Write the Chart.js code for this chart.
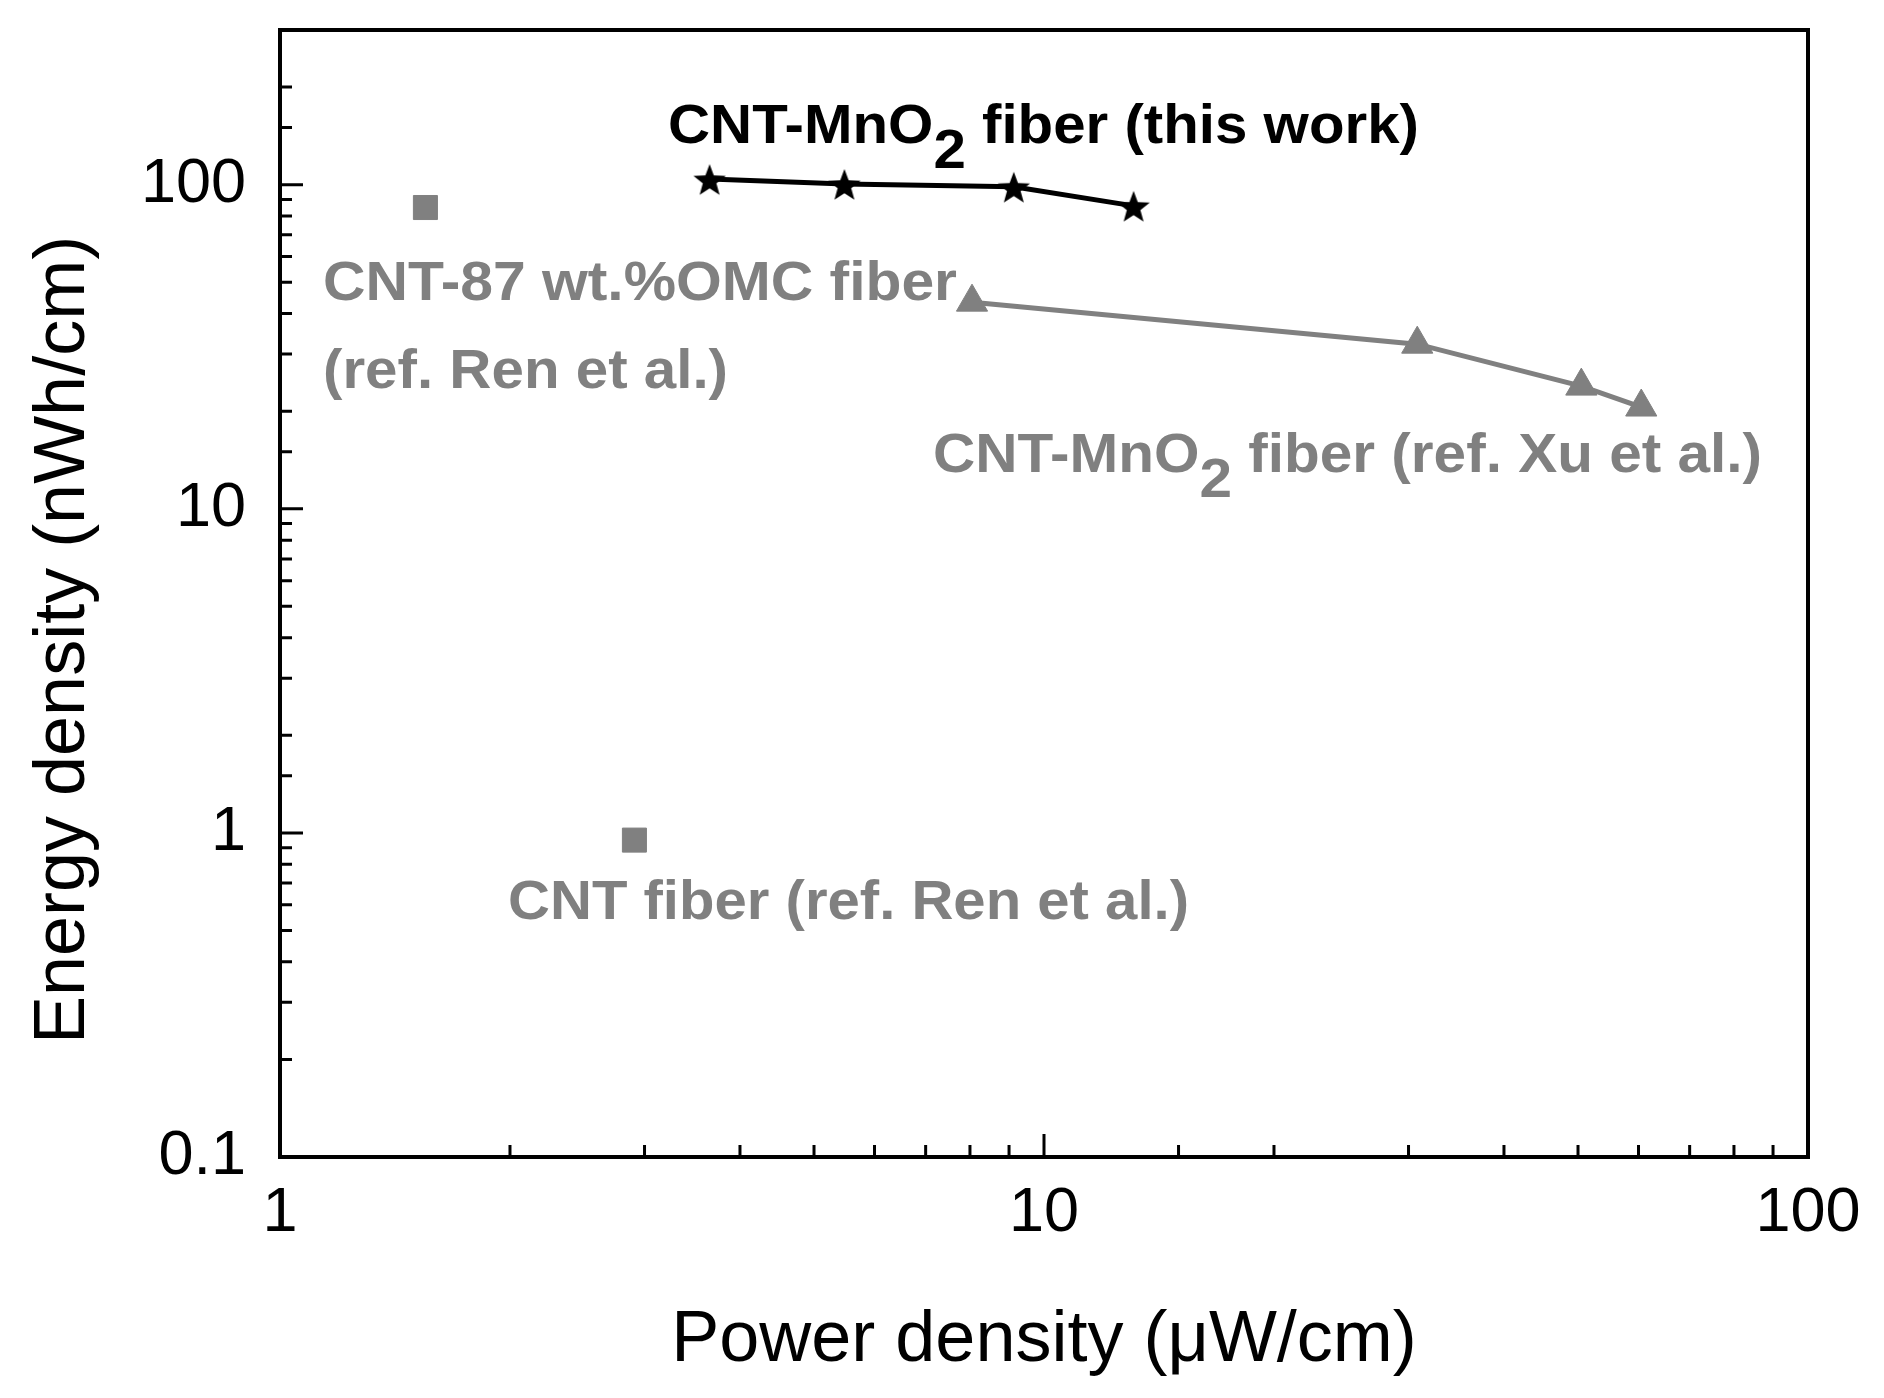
<!DOCTYPE html>
<html>
<head>
<meta charset="utf-8">
<script src="https://cdn.jsdelivr.net/npm/chart.js@4.4.1/dist/chart.umd.min.js"></script>
<style>
  html, body { margin: 0; padding: 0; background: #fff; }
  #wrap { width: 1884px; height: 1398px; position: relative; }
</style>
</head>
<body>
<div id="wrap"><canvas id="chart"></canvas></div>
<script>
// values (power in µW/cm, energy in nWh/cm)
const thisWorkPower = [3.65, 5.48, 9.13, 13.1];
const thisWorkEnergy = [104, 100.5, 98.5, 86];
const xuPower = [8.05, 30.8, 50.5, 60.5];
const xuEnergy = [43.4, 32.2, 23.9, 20.6];
const renOmcPower = [1.55];
const renOmcEnergy = [85];
const renCntPower = [2.91];
const renCntEnergy = [0.95];

const xTickLabels = [1, 10, 100];
const yTickLabels = [0.1, 1, 10, 100];

const GRAY = '#808080';
const FONT = "'Liberation Sans', Arial, sans-serif";
const NARROW = "'Liberation Sans Narrow', 'Liberation Sans', Arial, sans-serif";

const toPoints = (xs, ys) => xs.map((x, i) => ({ x, y: ys[i] }));
const isDecade = (v) => Math.abs(Math.log10(v) - Math.round(Math.log10(v))) < 1e-6;
const labelFor = (list) => (v) => {
  const hit = list.find(t => Math.abs(t - v) / t < 1e-6);
  return hit === undefined ? '' : String(hit);
};

// filled five-point star used as a point style
function starImage(size, color) {
  const c = document.createElement('canvas');
  c.width = c.height = size;
  const g = c.getContext('2d');
  const R = size / 2, r = R * 0.42;
  g.beginPath();
  for (let i = 0; i < 10; i++) {
    const rad = i % 2 ? r : R;
    const a = -Math.PI / 2 + i * Math.PI / 5;
    g.lineTo(R + rad * Math.cos(a), R + 2 + rad * Math.sin(a));
  }
  g.closePath();
  g.fillStyle = color;
  g.fill();
  return c;
}

// text labels inside the plot: [text, downward shift] parts, left x, baseline y, target width
const notes = [
  { parts: [['CNT-MnO', 0], ['2', 25], [' fiber (this work)', 0]], color: '#000', x: 668, y: 143, w: 751 },
  { parts: [['CNT-87 wt.%OMC fiber', 0]], color: GRAY, x: 323, y: 300, w: 634 },
  { parts: [['(ref. Ren et al.)', 0]], color: GRAY, x: 323, y: 388, w: 405 },
  { parts: [['CNT-MnO', 0], ['2', 25], [' fiber (ref. Xu et al.)', 0]], color: GRAY, x: 933, y: 472, w: 829 },
  { parts: [['CNT fiber (ref. Ren et al.)', 0]], color: GRAY, x: 508, y: 919, w: 681 },
];

const framePlugin = {
  id: 'frame',
  afterDraw(chart) {
    const { ctx, chartArea: a, scales } = chart;
    ctx.save();
    ctx.strokeStyle = '#000';
    ctx.lineWidth = 3;
    ctx.beginPath();
    scales.x.ticks.forEach(t => {
      const px = scales.x.getPixelForValue(t.value);
      const len = isDecade(t.value) ? 23 : 12;
      ctx.moveTo(px, a.bottom); ctx.lineTo(px, a.bottom - len);
    });
    scales.y.ticks.forEach(t => {
      const py = scales.y.getPixelForValue(t.value);
      const len = isDecade(t.value) ? 23 : 12;
      ctx.moveTo(a.left, py); ctx.lineTo(a.left + len, py);
    });
    ctx.stroke();
    ctx.lineWidth = 4;
    ctx.strokeRect(a.left, a.top, a.right - a.left, a.bottom - a.top);

    // y axis title (sits a bit below the axis middle in the original)
    ctx.translate(64, 640);
    ctx.rotate(-Math.PI / 2);
    ctx.fillStyle = '#000';
    ctx.font = `72px ${FONT}`;
    ctx.textAlign = 'center';
    ctx.textBaseline = 'middle';
    ctx.fillText('Energy density (nWh/cm)', 0, 0);
    ctx.restore();

    // annotations
    notes.forEach(n => {
      ctx.save();
      ctx.font = `bold 56px ${NARROW}`;
      ctx.fillStyle = n.color;
      ctx.textBaseline = 'alphabetic';
      ctx.textAlign = 'left';
      const natural = n.parts.reduce((s, p) => s + ctx.measureText(p[0]).width, 0);
      ctx.translate(n.x, n.y);
      ctx.scale(n.w / natural, 1);
      let cx = 0;
      n.parts.forEach(([txt, dy]) => {
        ctx.fillText(txt, cx, dy);
        cx += ctx.measureText(txt).width;
      });
      ctx.restore();
    });
  },
};

new Chart(document.getElementById('chart'), {
  type: 'scatter',
  data: {
    datasets: [
      {
        label: 'CNT-MnO2 fiber (this work)',
        data: toPoints(thisWorkPower, thisWorkEnergy),
        showLine: true,
        borderColor: '#000',
        borderWidth: 5,
        pointStyle: starImage(34, '#000'),
        pointRadius: 17,
      },
      {
        label: 'CNT-MnO2 fiber (ref. Xu et al.)',
        data: toPoints(xuPower, xuEnergy),
        showLine: true,
        borderColor: GRAY,
        borderWidth: 5,
        pointStyle: 'triangle',
        pointRadius: 18,
        pointBackgroundColor: GRAY,
        pointBorderColor: GRAY,
        pointBorderWidth: 1,
      },
      {
        label: 'CNT-87 wt.%OMC fiber (ref. Ren et al.)',
        data: toPoints(renOmcPower, renOmcEnergy),
        pointStyle: 'rect',
        pointRadius: 17,
        pointBackgroundColor: GRAY,
        pointBorderColor: GRAY,
        pointBorderWidth: 1,
      },
      {
        label: 'CNT fiber (ref. Ren et al.)',
        data: toPoints(renCntPower, renCntEnergy),
        pointStyle: 'rect',
        pointRadius: 17,
        pointBackgroundColor: GRAY,
        pointBorderColor: GRAY,
        pointBorderWidth: 1,
      },
    ],
  },
  options: {
    responsive: true,
    maintainAspectRatio: false,
    animation: false,
    layout: { padding: { top: 0, right: 76, left: 0, bottom: 0 } },
    plugins: { legend: { display: false }, tooltip: { enabled: false } },
    scales: {
      x: {
        type: 'logarithmic',
        min: 1,
        max: 100,
        grid: { display: false, drawTicks: false },
        border: { display: false },
        ticks: {
          autoSkip: false, maxRotation: 0, padding: 19, color: '#000',
          font: { family: FONT, size: 63 },
          callback: labelFor(xTickLabels),
        },
        title: {
          display: true, text: 'Power density (μW/cm)', color: '#000',
          font: { family: FONT, size: 72 }, padding: { top: 0, bottom: 14 },
        },
        afterFit: (s) => { s.height = 241; },
      },
      y: {
        type: 'logarithmic',
        min: 0.1,
        max: 300,
        grid: { display: false, drawTicks: false },
        border: { display: false },
        ticks: {
          autoSkip: false, padding: 34, color: '#000',
          font: { family: FONT, size: 63 },
          callback: labelFor(yTickLabels),
        },
        afterFit: (s) => {
          s.width = 280;
          // plot frame starts 30px below the top edge
          s.paddingTop = 30;
          s.paddingBottom = 0;
        },
      },
    },
  },
  plugins: [framePlugin],
});
</script>
</body>
</html>
